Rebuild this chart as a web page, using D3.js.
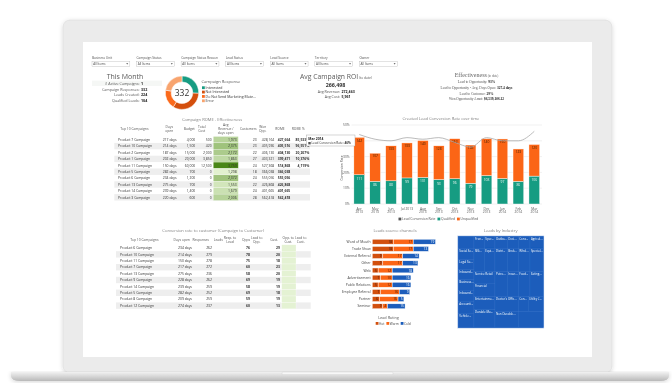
<!DOCTYPE html>
<html><head><meta charset="utf-8">
<script src="https://cdn.jsdelivr.net/npm/d3@7"></script>
<style>body{margin:0;background:#fff}svg{display:block;font-family:"Open Sans","Noto Sans",sans-serif}</style>
</head><body><svg id="c" width="672" height="383"></svg>
<script>
// ---------------- DATA ----------------
const filterLabels = ["Business Unit","Campaign Status","Campaign Status Reason","Lead Status","Lead Source","Territory","Owner"];
const filterValue = "All Items";

const monthStatLabels = ["# Active Campaigns:","Campaign Responses:","Leads Created:","Qualified Leads:"];
const monthStatValues = ["1","332","224","104"];

const responseLabels = ["Interested","Not Interested","Do Not Send Marketing Materials","Error"];
const responseValues = [85,110,62,75];
const responseTotal = "332";

const roiValue = "266,498";
const roiLabels = ["Avg Revenue:","Avg Cost:"];
const roiValues = ["272,463","5,961"];

const effLabels = ["Lead to Opportunity: ","Lead to Opportunity - Avg. Days Open: ","Lead to Customer: ","Won Opportunity Amnt: "];
const effValues = ["93%","327.4 days","29%","$6,539,106.12"];

const romeHeaders = [["Top 10 Campaigns"],["Days","open"],["Budget"],["Total","Cost"],["Avg","Revenue /","days open"],["Customers"],["Won","Opp."],["ROME"],["ROME %"]];
const romeCampaigns = ["Product 7 Campaign","Product 10 Campaign","Product 2 Campaign","Product 1 Campaign","Product 11 Campaign","Product 5 Campaign","Product 6 Campaign","Product 13 Campaign","Product 14 Campaign","Product 3 Campaign"];
const romeDays = ["217 days","214 days","187 days","202 days","150 days","282 days","234 days","275 days","239 days","220 days"];
const romeBudget = ["4,000","1,500","15,000","20,000","60,000","700","1,200","700","1,400","600"];
const romeCost = ["500","420","2,000","3,850","12,500","0","0","0","0","0"];
const romeAvgRev = [1973,2375,2172,1863,3759,1298,2372,1553,1679,2006];
const romeCustomers = ["23","23","22","27","24","18","24","22","24","28"];
const romeWonOpp = ["428,164","405,936","406,130","403,321","527,368","366,038","555,056","426,868","401,665","562,418"];
const romeRome = ["427,664","405,516","404,130","399,471","514,868","366,038","555,056","426,868","401,665","562,418"];
const romePct = ["85,533%","96,551%","20,207%","10,376%","4,119%","","","","",""];

const months = ["Apr 2013","May 2013","Jun 2013","Jul 2013","Aug 2013","Sep 2013","Oct 2013","Nov 2013","Dec 2013","Jan 2014","Feb 2014","Mar 2014"];
const qualified = [111,86,88,99,101,93,96,79,108,97,86,106];
const unqualified = [142,107,133,133,140,128,152,145,140,150,123,120];
const conversionRate = [44,41,40,42,41,42,39,36,42,40,40,46];
const rateTicks = [0,10,20,30,40,50];

const convHeaders = [["Top 10 Campaigns"],["Days open"],["Responses"],["Leads"],["Resp. to","Lead"],["Opps"],["Lead to","Opp."],["Cust."],["Opp. to","Cust."],["Lead to","Cust."]];
const convCampaigns = ["Product 6 Campaign","Product 10 Campaign","Product 11 Campaign","Product 7 Campaign","Product 13 Campaign","Product 9 Campaign","Product 14 Campaign","Product 5 Campaign","Product 8 Campaign","Product 12 Campaign"];
const convDays = ["234 days","214 days","150 days","217 days","275 days","228 days","239 days","282 days","209 days","274 days"];
const convResponses = ["262","279","278","272","236","262","259","252","259","237"];
const convOpps = ["76","78","75","60","58","69","58","69","59","60"];
const convCust = ["29","20","18","23","20","19","19","18","19","13"];

const sourceChannels = ["Word of Mouth","Trade Show","External Referral","Other","Web","Advertisement","Public Relations","Employee Referral","Partner","Seminar"];
const hotLeads = [18,18,9,9,5,7,5,7,6,9];
const warmLeads = [17,17,17,17,12,10,12,16,16,4];
const coldLeads = [19,13,14,13,18,16,16,9,5,15];
const ratingLabels = ["Hot","Warm","Cold"];

// treemap leaves: block id tells which nested group a leaf belongs to
const industryNames = ["","Social Services","Legal Services","Inbound Capital Intensive Processing","Business Services","Inbound Repair and Services","Accounting","Vehicle Retail",
  "Franchises","SIG Affiliations","Specialty Realty","Equipment Rental and Leasing","Outbound Consumer Service","Distributors, Dispatchers","Design Direction","Brokers","Consulting","Wholesale","Agriculture","Special Outbound Trade",
  "Service Retail","Financial","Entertainment Retail","Durable Manufacturing",
  "Petrochemical Extraction","Insurance","Food and Tobacco Processing","Eating and Drinking Places",
  "Doctor's Offices and Clinics","Consumer Services","Utility Creation and Distribution",
  "Non Durable Merchandise Retail",""];
const industryValues = [16.5,16.5,14.1,14.1,14.6,15.5,16.9,20.2,
  10.9,21.7,11.2,22.4,13.0,25.9,11.6,23.1,12.3,24.5,14.0,28.0,
  22.1,25.2,25.2,33.4,
  27.8,24.8,26.3,30.0,
  31.5,13.5,20.3,
  33.6,36.0];
const industryBlock = ["A","A","A","A","A","A","A","A",
  "T1","T1","T2","T2","T3","T3","T4","T4","T5","T5","T6","T6",
  "B","B","B","B",
  "R1","R1","R1","R1",
  "R2","R2","R2",
  "R3","R3"];

// ---------------- DRAW ----------------
const svg = d3.select('#c');
const defs = svg.append('defs');
const f = defs.append('filter').attr('id','sh').attr('x','-10%').attr('y','-10%').attr('width','120%').attr('height','125%');
f.append('feDropShadow').attr('dx',0).attr('dy',1).attr('stdDeviation',2.2).attr('flood-color','#000').attr('flood-opacity',0.16);
defs.append('filter').attr('id','soft').append('feGaussianBlur').attr('stdDeviation',0.22);
const bg = defs.append('linearGradient').attr('id','base').attr('x1',0).attr('y1',0).attr('x2',0).attr('y2',1);
bg.append('stop').attr('offset','0%').attr('stop-color','#f1f1f1');
bg.append('stop').attr('offset','35%').attr('stop-color','#dedede');
bg.append('stop').attr('offset','100%').attr('stop-color','#b8b8b8');

function txt(g,x,y,s,size,o={}){
  return g.append('text').attr('x',x).attr('y',y).text(s).attr('font-size',size)
    .attr('fill',o.fill||'#444').attr('text-anchor',o.anchor||'start')
    .attr('font-weight',o.weight||null).attr('font-family',o.family||null);
}

// laptop
svg.append('rect').attr('x',63).attr('y',20).attr('width',549).attr('height',353).attr('rx',7)
  .attr('fill','#ebebeb').attr('stroke','#dadada').attr('stroke-width',0.6).attr('filter','url(#sh)');
svg.append('rect').attr('x',83).attr('y',42).attr('width',509).attr('height',315).attr('fill','#fff');
svg.append('path').attr('d','M11,372 L669,372 L669,376 Q669,381 660,381 L20,381 Q11,381 11,376 Z')
  .attr('fill','url(#base)').attr('filter','url(#sh)');
svg.append('rect').attr('x',282).attr('y',372).attr('width',111).attr('height',2.6).attr('rx',1)
  .attr('fill','#f7f7f7').attr('stroke','#cfcfcf').attr('stroke-width',0.4);

const g = svg.append('g').attr('filter','url(#soft)');

// filters
const fx = d3.scaleBand().domain(filterLabels).range([92, 92+7*43.6]).paddingInner(6.6/43.6);
filterLabels.forEach(l=>{
  const x = fx(l);
  txt(g,x,59.3,l,3.2,{fill:'#555'});
  g.append('rect').attr('x',x).attr('y',61.6).attr('width',fx.bandwidth()).attr('height',4.6)
    .attr('fill','#fff').attr('stroke','#b8b8b8').attr('stroke-width',0.4);
  txt(g,x+1.2,64.9,filterValue,3.1,{fill:'#444'});
  g.append('path').attr('d',`M${x+fx.bandwidth()-3.6},63.3 l2,0 l-1,1.3z`).attr('fill','#444');
});

// This Month
txt(g,125,78.5,'This Month',7,{anchor:'middle',fill:'#5a5a5a'});
g.append('rect').attr('x',92).attr('y',80.6).attr('width',70).attr('height',5.4).attr('fill','#f5f7f5');
const statY = d3.scalePoint().domain(monthStatLabels).range([84.8,102]);
monthStatLabels.forEach((l,i)=>{
  txt(g,139.6,statY(l),l,3.7,{anchor:'end',fill:'#555'});
  txt(g,141,statY(l),monthStatValues[i],3.7,{fill:'#222',weight:'bold'});
});

// donut
const respColor = d3.scaleOrdinal().domain(responseLabels).range(['#189c82','#d4500e','#fb6a1b','#f8a46e']);
const pie = d3.pie().sort(null).value(d=>d.v)(responseLabels.map((l,i)=>({l,v:responseValues[i]})));
const arc = d3.arc().innerRadius(10.8).outerRadius(16.7);
const dg = g.append('g').attr('transform','translate(182,92.7)');
dg.selectAll('path').data(pie).join('path').attr('d',arc).attr('fill',d=>respColor(d.data.l))
  .attr('stroke','#fff').attr('stroke-width',0.5);
txt(dg,0,3,responseTotal,8.5,{anchor:'middle',fill:'#333'});
txt(g,201.5,83.2,'Campaign Response',4.1,{fill:'#555'});
const legY = d3.scalePoint().domain(responseLabels).range([87.7,100.8]);
responseLabels.forEach(l=>{
  g.append('rect').attr('x',202).attr('y',legY(l)-1.4).attr('width',2.8).attr('height',2.8).attr('fill',respColor(l));
  const s = l.length>28 ? l.slice(0,26)+'...' : l;
  txt(g,205.6,legY(l)+1.3,s,3.5,{fill:'#333'});
});

// Avg Campaign ROI
const roiT = txt(g,300,78.8,'Avg Campaign ROI',6.8,{fill:'#5a5a5a'});
roiT.append('tspan').text(' (to date)').attr('font-size',3.3);
txt(g,335.5,86.5,roiValue,5.3,{anchor:'middle',fill:'#333',weight:'bold'});
roiLabels.forEach((l,i)=>{
  const y = 93.3 + i*4.3;
  txt(g,340,y,l,3.6,{anchor:'end',fill:'#555'});
  txt(g,341.4,y,roiValues[i],3.6,{fill:'#222',weight:'bold'});
});

// Effectiveness
const SER = '"Liberation Serif","DejaVu Serif",serif';
const effT = txt(g,476.5,77.2,'Effectiveness',6,{anchor:'middle',fill:'#666',family:SER});
effT.append('tspan').text(' (to date)').attr('font-size',3.2);
effLabels.forEach((l,i)=>{
  const t = txt(g,476.5,83 + i*5.75,l,3.5,{anchor:'middle',fill:'#555',family:SER});
  t.append('tspan').text(effValues[i]).attr('font-weight','bold').attr('fill','#222');
});

// ---------- table helper ----------
function drawTable(o){
  const rows = d3.scaleBand().domain(d3.range(o.n)).range([o.y0,o.y1]);
  txt(g,o.titleX,o.titleY,o.title,4.1,{anchor:'middle',fill:'#808080'});
  o.headers.forEach((h,i)=>{
    const n=h.length;
    h.forEach((line,j)=>{
      txt(g,o.headX[i],o.headY-(n-1)*1.9+j*3.8+1.2,line,3.3,{anchor:'middle',fill:'#555'});
    });
  });
  d3.range(o.n).forEach(r=>{
    if(r%2===1) g.append('rect').attr('x',o.x0).attr('y',rows(r)).attr('width',o.x1-o.x0).attr('height',rows.bandwidth()).attr('fill','#eeeeee');
  });
  if(o.green){
    d3.range(o.n).forEach(r=>{
      g.append('rect').attr('x',o.green.x).attr('y',rows(r)).attr('width',o.green.w).attr('height',rows.bandwidth())
       .attr('fill',o.green.fill(r)).attr('stroke','#fff').attr('stroke-width',0.25);
    });
  }
  o.cols.forEach(c=>{
    c.values.forEach((v,r)=>{
      txt(g,c.x,rows(r)+rows.bandwidth()/2+1.25,v,3.4,{anchor:c.anchor||'end',fill:'#333',weight:c.weight||null});
    });
  });
}

const revColor = d3.scaleLinear().domain([d3.min(romeAvgRev),d3.max(romeAvgRev)]).range(['#e2f1cf','#4a8712']);
drawTable({
  n:10, y0:136.5, y1:200.5, x0:114.3, x1:310,
  title:'Campaign ROME - Effectiveness', titleX:212, titleY:120.8,
  headers:romeHeaders, headX:[134.3,169.3,189.3,201.7,225.7,248.3,262.7,280,298.3], headY:128.6,
  green:{x:213.3,w:25,fill:r=>revColor(romeAvgRev[r])},
  cols:[
    {x:118,anchor:'start',values:romeCampaigns},
    {x:176.7,values:romeDays},
    {x:195.3,values:romeBudget},
    {x:211.7,values:romeCost},
    {x:236.7,values:romeAvgRev.map(d3.format(','))},
    {x:256.7,values:romeCustomers},
    {x:274.3,values:romeWonOpp},
    {x:290.3,values:romeRome,weight:'bold'},
    {x:309.3,values:romePct,weight:'bold'}
  ]
});

drawTable({
  n:10, y0:244.8, y1:308.8, x0:116, x1:310.7,
  title:'Conversion rate to customer (Campaign to Customer)', titleX:213.3, titleY:232,
  headers:convHeaders, headX:[144.3,181.7,200.7,218.3,230,246,256.7,274,288.3,300.7], headY:240,
  green:{x:281.7,w:14.3,fill:()=>'#e4f2d3'},
  cols:[
    {x:120,anchor:'start',values:convCampaigns},
    {x:192,values:convDays},
    {x:212,values:convResponses},
    {x:250,values:convOpps,weight:'bold'},
    {x:280,values:convCust,weight:'bold'}
  ]
});

// ---------- bar chart ----------
const TEAL='#189c82', ORANGE='#fb6514';
const bx = d3.scaleBand().domain(months).range([351.5,542]).paddingInner(0.33).paddingOuter(0.15);
const yr = d3.scaleLinear().domain([0,50]).range([204,125]);
const yc = d3.scaleLinear().domain([0,300]).range([204,125]);
const tipBox = {x:306.5,y:135,w:48.5,h:11};
txt(g,441,119.8,'Created Lead Conversion Rate over time',4.1,{anchor:'middle',fill:'#808080'});
rateTicks.forEach(t=>{
  g.append('line').attr('x1',351.5).attr('x2',542).attr('y1',yr(t)).attr('y2',yr(t)).attr('stroke','#e3e3e3').attr('stroke-width',0.5);
  const ly = yr(t);
  const hidden = ly>tipBox.y-1 && ly<tipBox.y+tipBox.h+1; // covered by the hover tooltip
  if(!hidden) txt(g,349.5,ly+1.2,t+'%',3.3,{anchor:'end',fill:'#555'});
});
txt(g,0,0,'Conversion Rate',3.3,{anchor:'middle',fill:'#555'}).attr('transform','translate(342.5,168) rotate(-90)');
months.forEach((m,i)=>{
  const x=bx(m), w=bx.bandwidth();
  const yq=yc(qualified[i]), yt=yc(qualified[i]+unqualified[i]);
  g.append('rect').attr('x',x).attr('y',yq).attr('width',w).attr('height',204-yq).attr('fill',TEAL).attr('stroke','#fff').attr('stroke-width',0.4);
  g.append('rect').attr('x',x).attr('y',yt).attr('width',w).attr('height',yq-yt).attr('fill',ORANGE).attr('stroke','#fff').attr('stroke-width',0.4);
  txt(g,x+w/2,yt+4.2,unqualified[i],3.3,{anchor:'middle',fill:'#3a1a05'});
  txt(g,x+w/2,yq+5,qualified[i],3.3,{anchor:'middle',fill:'#e8f6f1'});
  const parts = m==='Jul 2013' ? [m] : m.split(' ');
  parts.forEach((p,j)=>txt(g,x+w/2,209.6+j*3.6,p,3.3,{anchor:'middle',fill:'#555'}));
});
const line = d3.line().x((d,i)=>bx(months[i])+bx.bandwidth()/2).y(d=>yr(d)).curve(d3.curveMonotoneX);
g.append('path').attr('d',line(conversionRate)).attr('fill','none').attr('stroke','#a9a9a9').attr('stroke-width',0.8);
// legend
const legItems = [['Lead Conversion Rate','#555'],['Qualified',TEAL],['Unqualified',ORANGE]];
let lx=398.5;
legItems.forEach(([l,c])=>{
  g.append('rect').attr('x',lx).attr('y',217.6).attr('width',2.8).attr('height',2.8).attr('fill',c);
  const t=txt(g,lx+3.6,220.3,l,3.3,{fill:'#555'});
  lx += 3.6 + t.node().getComputedTextLength() + 2;
});
// tooltip
const tt = g.append('g');
tt.append('rect').attr('x',tipBox.x).attr('y',tipBox.y).attr('width',tipBox.w).attr('height',tipBox.h).attr('fill','#fff')
  .attr('stroke','#9a9a9a').attr('stroke-width',0.4);
txt(tt,308.3,139.6,'Mar 2014',3.3,{fill:'#222',weight:'bold'});
tt.append('rect').attr('x',308.3).attr('y',142).attr('width',2.4).attr('height',2.4).attr('fill','#555');
const tt2 = txt(tt,311.5,144.2,'Lead Conversion Rate: ',3.1,{fill:'#333'});
tt2.append('tspan').text(conversionRate[11]+'%').attr('font-weight','bold');

// ---------- lead sources ----------
const HOT='#d2500f', WARM='#fb6514', COLD='#1a5dbb';
txt(g,395,231.6,'Leads source channels',4.1,{anchor:'middle',fill:'#808080'});
const sy = d3.scaleBand().domain(sourceChannels).range([237,311]).padding(0.32);
const sx = d3.scaleLinear().domain([0,60]).range([372.3,372.3+70.2]);
sourceChannels.forEach((c,i)=>{
  const y=sy(c), h=sy.bandwidth();
  txt(g,370.6,y+h/2+1.2,c,3.4,{anchor:'end',fill:'#444'});
  const segs=[[0,hotLeads[i],HOT,'#3a1204'],[hotLeads[i],hotLeads[i]+warmLeads[i],WARM,'#3a1204'],[hotLeads[i]+warmLeads[i],hotLeads[i]+warmLeads[i]+coldLeads[i],COLD,'#fff']];
  segs.forEach(([a,b,col,tc])=>{
    g.append('rect').attr('x',sx(a)).attr('y',y).attr('width',sx(b)-sx(a)).attr('height',h).attr('fill',col).attr('stroke','#fff').attr('stroke-width',0.4);
    txt(g,sx(b)-1.2,y+h/2+1.2,b-a,3.2,{anchor:'end',fill:tc});
  });
});
txt(g,388.5,318.8,'Lead Rating',3.8,{anchor:'middle',fill:'#555'});
const ratingColor = d3.scaleOrdinal().domain(ratingLabels).range([HOT,WARM,COLD]);
let rx=375.7;
ratingLabels.forEach(l=>{
  g.append('rect').attr('x',rx).attr('y',322).attr('width',2.8).attr('height',2.8).attr('fill',ratingColor(l));
  const t=txt(g,rx+3.3,324.7,l,3.2,{fill:'#444'});
  rx += 3.3 + t.node().getComputedTextLength() + 2;
});

// ---------- treemap ----------
txt(g,500.7,231.6,'Leads by Industry',4.1,{anchor:'middle',fill:'#808080'});
const leavesOf = b => industryNames.map((n,i)=>({name:n,value:industryValues[i],b:industryBlock[i]})).filter(d=>d.b===b);
const tree = {children:[
  {children:leavesOf('A')},
  {children:[
    {children:['T1','T2','T3','T4','T5','T6'].map(b=>({children:leavesOf(b)}))},
    {children:[
      {children:leavesOf('B')},
      {children:['R1','R2','R3'].map(b=>({children:leavesOf(b)}))}
    ]}
  ]}
]};
const root = d3.hierarchy(tree).sum(d=>d.value||0);
d3.treemap().size([85,91]).tile(d3.treemapSliceDice)(root);
const tg = g.append('g').attr('transform','translate(458.3,236.5)');
tg.append('rect').attr('x',-0.6).attr('y',-0.6).attr('width',86.2).attr('height',92.2).attr('fill','#1a5dbb').attr('stroke','#d5e0f2').attr('stroke-width',0.6);
root.leaves().forEach(d=>{
  const w=d.x1-d.x0, h=d.y1-d.y0;
  tg.append('rect').attr('x',d.x0).attr('y',d.y0).attr('width',w).attr('height',h)
    .attr('fill','#1a5dbb').attr('stroke','#3f76c8').attr('stroke-width',0.35);
  if(!d.data.name) return;
  const t = txt(tg,d.x0+1,d.y0+3.6,d.data.name,2.9,{fill:'#fff'});
  let s = d.data.name;
  while(t.node().getComputedTextLength()>w-1.4 && s.length>1){
    s = s.slice(0,-1);
    t.text(s.trim()+'...');
  }
});
</script></body></html>
